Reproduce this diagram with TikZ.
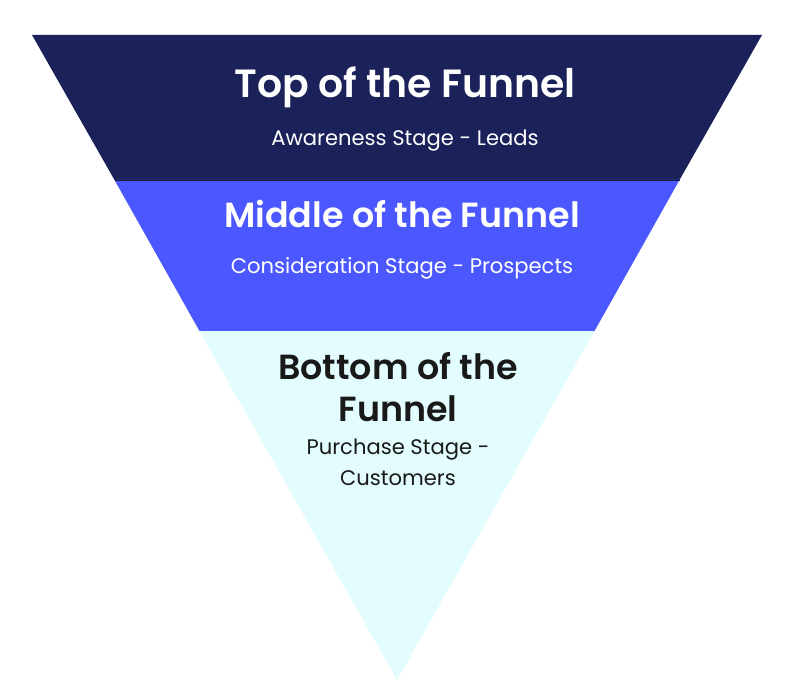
\documentclass[tikz,border=0pt]{standalone}
\usepackage{fontspec}
\setmainfont{Poppins}[BoldFont={Poppins SemiBold}]
\usetikzlibrary{positioning}
\definecolor{topcolor}{RGB}{26, 34, 89}
\definecolor{midcolor}{RGB}{75, 87, 255}
\definecolor{botcolor}{RGB}{227, 253, 254}

\begin{document}
\begin{tikzpicture}[
    x=0.025cm, y=-0.025cm,
    title/.style={font=\bfseries\fontsize{24.8}{30}\selectfont, align=center},
    subtitle/.style={font=\fontsize{15}{22}\selectfont, align=center}
]
\useasboundingbox (0,0) rectangle (800,682);

% Funnel bands
\fill[topcolor] (32,35) -- (762,35) -- (679.5,180) -- (114.5,180) -- cycle;
\fill[midcolor] (114.5,180) -- (679.5,180) -- (594.5,331) -- (199.5,331) -- cycle;
\fill[botcolor] (199.5,331) -- (594.5,331) -- (397,680) -- cycle;
\draw[topcolor!80!black, line width=0.6pt] (114.5,180) -- (679.5,180);

% Labels
\node[title, text=white, font=\bfseries\fontsize{28}{34}\selectfont] (toptitle) at (405,87) {Top of the Funnel};
\node[subtitle, text=white] (topsub) at (405,141) {Awareness Stage - Leads};

\node[title, text=white] (midtitle) at (402,214) {Middle of the Funnel};
\node[subtitle, text=white] (midsub) at (402,268) {Consideration Stage - Prospects};

\node[title, text=black!90] (bottitle) at (398,387) {Bottom of the\\Funnel};
\node[subtitle, text=black!90] (botsub) at (398,462) {Purchase Stage -\\Customers};

\end{tikzpicture}
\end{document}
